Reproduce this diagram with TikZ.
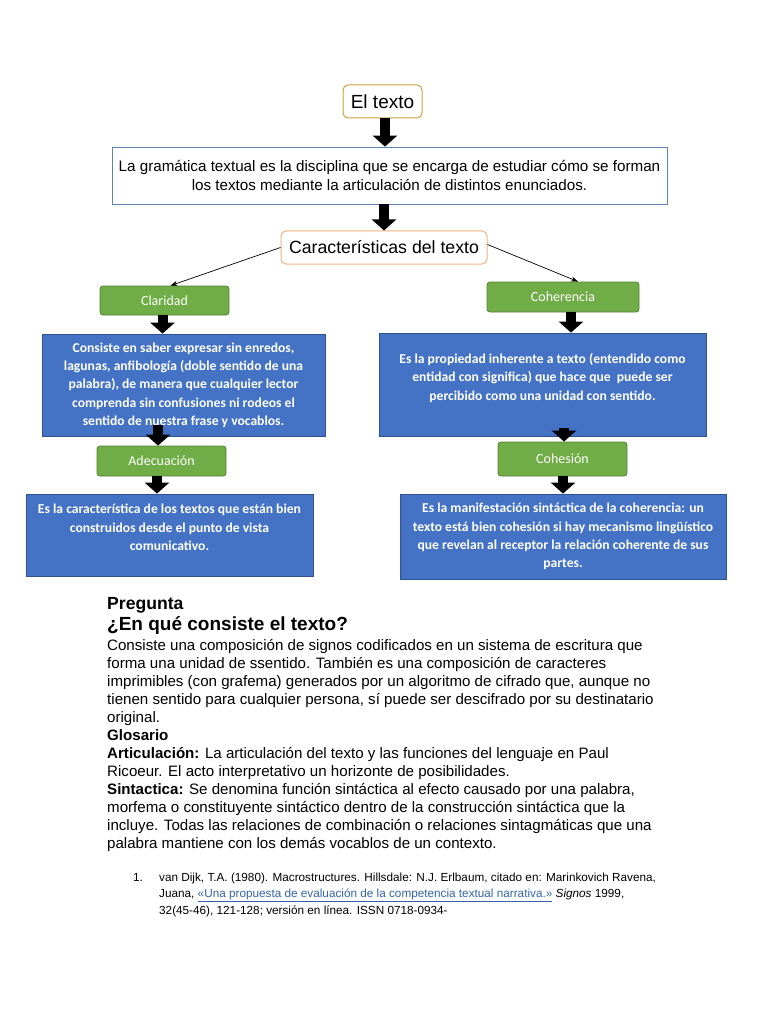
\documentclass[tikz,border=0pt]{standalone}
\usepackage{fontspec}
\setmainfont{Liberation Sans}
\newfontfamily\carl{Carlito}
\usetikzlibrary{arrows.meta,calc}
\definecolor{gold}{HTML}{C9A23C}
\definecolor{peach}{HTML}{F4B183}
\definecolor{steel}{HTML}{5B84B0}
\definecolor{grn}{HTML}{70AD47}
\definecolor{grnd}{HTML}{548235}
\definecolor{blu}{HTML}{4472C4}
\definecolor{blud}{HTML}{2F528F}
\definecolor{linkc}{HTML}{3564A8}
\begin{document}
\begin{tikzpicture}[x=1pt,y=-1pt,
  blk/.style={line width=10pt,-{Triangle[length=11pt,width=24pt]}},
  thin/.style={line width=0.7pt,-{Stealth[length=7pt,width=5pt]}},
  topbox/.style={draw, fill=white, rounded corners=5pt, line width=1pt, inner sep=0pt},
  gbox/.style={draw=grnd, fill=grn, rounded corners=3pt, line width=0.8pt, inner sep=0pt, text=white, font=\carl\fontsize{14}{16}\selectfont},
  bbox/.style={draw=blud, fill=blu, line width=0.8pt, inner sep=0pt, text=white, align=center, font=\carl\bfseries\fontsize{13.6}{18.3}\selectfont},
  body/.style={inner sep=0pt, anchor=north west, align=left, font=\fontsize{15.1}{18}\selectfont},
]
\useasboundingbox (0,0) rectangle (768,1024);
\fill[white] (0,0) rectangle (768,1024);

% top part
\node[topbox, draw=gold, minimum width=79pt, minimum height=33pt, font=\fontsize{19}{22}\selectfont] (et) at (382.5,101.5) {El texto};
\node[draw=steel, line width=0.8pt, fill=white, inner sep=0pt, minimum width=555pt, minimum height=57pt, align=center, font=\fontsize{15.2}{18.5}\selectfont] (def) at (389.5,175.5)
  {La gramática textual es la disciplina que se encarga de estudiar cómo se forman\\los textos mediante la articulación de distintos enunciados.};
\node[topbox, draw=peach, minimum width=206pt, minimum height=33pt, font=\fontsize{17.7}{21}\selectfont] (car) at (384,247.5) {Características del texto};

% left column
\node[gbox, minimum width=129pt, minimum height=29pt] (clar) at (164.5,300.5) {Claridad};
\node[bbox, minimum width=283pt, minimum height=102pt] (b1) at (183.5,385)
  {Consiste en saber expresar sin enredos,\\lagunas, anfibología (doble sentido de una\\palabra), de manera que cualquier lector\\comprenda sin confusiones ni rodeos el\\sentido de nuestra frase y vocablos.};
\node[gbox, minimum width=129pt, minimum height=30pt] (adec) at (161.5,461) {Adecuación};
\node[bbox, minimum width=287pt, minimum height=82pt] (b2) at (169.5,535)
  {Es la característica de los textos que están bien\\construidos desde el punto de vista\\comunicativo.\\[-3pt]\mbox{}};

% right column
\node[gbox, minimum width=152pt, minimum height=30pt] (coh) at (563,297) {Coherencia};
\node[bbox, minimum width=327pt, minimum height=103pt] (b3) at (542.5,384.5)
  {Es la propiedad inherente a texto (entendido como\\entidad con significa) que hace que\ \ puede ser\\percibido como una unidad con sentido.\\[-3pt]\mbox{}};
\node[gbox, minimum width=129pt, minimum height=34pt] (cohe) at (562.5,459) {Cohesión};
\node[bbox, minimum width=326pt, minimum height=85pt] (b4) at (563,536.5)
  {Es la manifestación sintáctica de la coherencia: un\\texto está bien cohesión si hay mecanismo lingüístico\\que revelan al receptor la relación coherente de sus\\partes.};

% block arrows
\draw[blk] ($(et.south)+(2.5,0)$) -- ($(et.south |- def.north)+(2.5,0)$);
\draw[blk] (car.north |- def.south) -- (car.north);
\draw[blk] ($(clar.south)+(-2,0)$) -- ($(clar.south |- b1.north)+(-2,0)$);
\draw[blk] ($(adec.north |- b1.south)+(-3.5,-11)$) -- ($(adec.north)+(-3.5,0)$);
\draw[blk] ($(adec.south)+(-4.5,0)$) -- ($(adec.south |- b2.north)+(-4.5,0)$);
\draw[blk] ($(coh.south)+(8,0)$) -- ($(coh.south |- b3.north)+(8,0)$);
\draw[blk] ($(cohe.north |- b3.south)+(1.5,-8)$) -- ($(cohe.north)+(1.5,0)$);
\draw[blk] ($(cohe.south)+(0.5,0)$) -- ($(cohe.south |- b4.north)+(0.5,0)$);

% thin arrows
\draw[thin] (car.west) -- ($(clar.north)+(6,0)$);
\draw[thin] ($(car.east)+(0,-3)$) -- ($(coh.north)+(15,0)$);

% text
\node[inner sep=0pt, anchor=base west, font=\bfseries\fontsize{17.6}{20}\selectfont] (preg) at (107,609) {Pregunta};
\node[inner sep=0pt, anchor=base west, font=\bfseries\fontsize{19}{22}\selectfont] (q) at (107,630) {¿En qué consiste el texto?};
\node[body] (bodytxt) at (107,637.4) {\strut Consiste una composición de signos codificados en un sistema de escritura que\\
forma una unidad de ssentido. También es una composición de caracteres\\
imprimibles (con grafema) generados por un algoritmo de cifrado que, aunque no\\
tienen sentido para cualquier persona, sí puede ser descifrado por su destinatario\\
original.\\
\textbf{Glosario}\\
\textbf{Articulación:} La articulación del texto y las funciones del lenguaje en Paul\\
Ricoeur. El acto interpretativo un horizonte de posibilidades.\\
\textbf{Sintactica:} Se denomina función sintáctica al efecto causado por una palabra,\\
morfema o constituyente sintáctico dentro de la construcción sintáctica que la\\
incluye. Todas las relaciones de combinación o relaciones sintagmáticas que una\\
palabra mantiene con los demás vocablos de un contexto.};

\node[inner sep=0pt, anchor=base west, font=\fontsize{11.75}{16.5}\selectfont] (num) at (133,881) {1.};
\node[inner sep=0pt, anchor=north west, align=left, font=\fontsize{11.75}{16.5}\selectfont] (ref) at (159,869.45) {\strut van Dijk, T.A. (1980). Macrostructures. Hillsdale: N.J. Erlbaum, citado en: Marinkovich Ravena,\\
Juana, {\color{linkc}\underline{«Una propuesta de evaluación de la competencia textual narrativa.»}} \textit{Signos} 1999,\\
32(45-46), 121-128; versión en línea. ISSN 0718-0934-};
\end{tikzpicture}
\end{document}
